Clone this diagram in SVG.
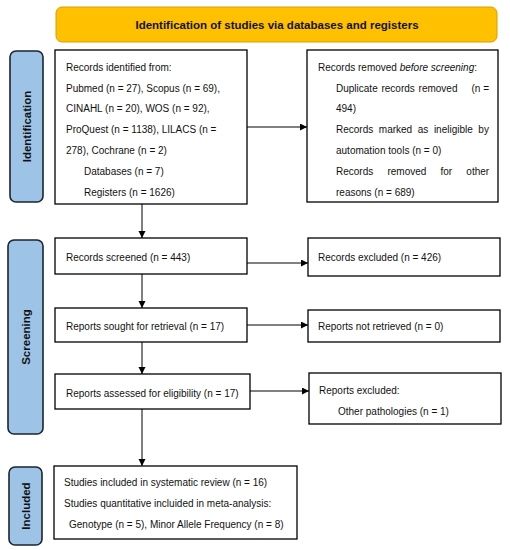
<svg xmlns="http://www.w3.org/2000/svg" width="510" height="550" viewBox="0 0 510 550">
<defs>
<style>
.box{fill:#fff;stroke:#000;stroke-width:1.3}
.side{fill:#9DC3E6;stroke:#1b2530;stroke-width:1.6}
.hdr{fill:#FFC000;stroke:#D4A000;stroke-width:1}
.t{font-family:"Liberation Sans",Arial,sans-serif;font-size:10px;fill:#111}
.st{font-family:"Liberation Sans",Arial,sans-serif;font-size:11.5px;font-weight:bold;fill:#111;text-anchor:middle}
.ht{font-family:"Liberation Sans",Arial,sans-serif;font-size:11.5px;font-weight:bold;fill:#111;text-anchor:middle}
.c{fill:none;stroke:#000;stroke-width:1}
</style>
<marker id="ah" markerWidth="8" markerHeight="8" refX="7" refY="3.5" orient="auto" markerUnits="userSpaceOnUse">
<path d="M0,0 L7,3.5 L0,7 Z" fill="#000"/>
</marker>
</defs>
<rect width="510" height="550" fill="#fff"/>

<g id="header">
<rect class="hdr" x="56" y="7" width="441" height="35" rx="6"/>
<text class="ht" x="277" y="29">Identification of studies via databases and registers</text>
</g>

<g id="side-identification">
<rect class="side" x="10" y="51" width="33" height="151" rx="6"/>
<text class="st" transform="translate(31,126.5) rotate(-90)">Identification</text>
</g>
<g id="side-screening">
<rect class="side" x="8" y="240" width="35" height="194" rx="6"/>
<text class="st" transform="translate(30,337) rotate(-90)">Screening</text>
</g>
<g id="side-included">
<rect class="side" x="9" y="467" width="33" height="78" rx="6"/>
<text class="st" transform="translate(30,506) rotate(-90)">Included</text>
</g>

<g id="records-identified">
<rect class="box" x="55" y="50" width="192" height="154"/>
<text class="t" x="66" y="71">Records identified from:</text>
<text class="t" x="66" y="91.5">Pubmed (n = 27), Scopus (n = 69),</text>
<text class="t" x="66" y="112">CINAHL (n = 20), WOS (n = 92),</text>
<text class="t" x="66" y="133">ProQuest (n = 1138), LILACS (n =</text>
<text class="t" x="66" y="154">278), Cochrane (n = 2)</text>
<text class="t" x="84" y="174.5">Databases (n = 7)</text>
<text class="t" x="84" y="196">Registers (n = 1626)</text>
</g>

<g id="records-removed">
<rect class="box" x="307" y="50" width="191" height="152"/>
<text class="t" x="318" y="71">Records removed <tspan font-style="italic">before screening</tspan>:</text>
<text class="t" x="336" y="91.5" word-spacing="1">Duplicate records removed</text>
<text class="t" x="489" y="91.5" text-anchor="end">(n =</text>
<text class="t" x="336" y="112">494)</text>
<text class="t" x="336" y="133" word-spacing="2.8">Records marked as ineligible by</text>
<text class="t" x="336" y="154">automation tools (n = 0)</text>
<text class="t" x="336" y="175" word-spacing="11.4">Records removed for other</text>
<text class="t" x="336" y="196">reasons (n = 689)</text>
</g>

<g id="records-screened">
<rect class="box" x="55" y="238" width="192" height="36"/>
<text class="t" x="66" y="261">Records screened (n = 443)</text>
</g>
<g id="records-excluded">
<rect class="box" x="308" y="238" width="192" height="38"/>
<text class="t" x="318" y="261">Records excluded (n = 426)</text>
</g>

<g id="reports-sought">
<rect class="box" x="55" y="308" width="192" height="34"/>
<text class="t" x="66" y="329.5">Reports sought for retrieval (n = 17)</text>
</g>
<g id="reports-not-retrieved">
<rect class="box" x="308" y="310" width="192" height="32"/>
<text class="t" x="318" y="329.5">Reports not retrieved (n = 0)</text>
</g>

<g id="reports-assessed">
<rect class="box" x="55" y="374" width="195" height="35"/>
<text class="t" x="66" y="396.5">Reports assessed for eligibility (n = 17)</text>
</g>
<g id="reports-excluded">
<rect class="box" x="309" y="373" width="192" height="51"/>
<text class="t" x="319" y="394">Reports excluded:</text>
<text class="t" x="338" y="415">Other pathologies (n = 1)</text>
</g>

<g id="studies-included">
<rect class="box" x="54" y="466" width="243" height="73"/>
<text class="t" x="64" y="486">Studies included in systematic review (n = 16)</text>
<text class="t" x="64" y="507">Studies quantitative incluided in meta-analysis:</text>
<text class="t" x="69" y="528">Genotype (n = 5), Minor Allele Frequency (n = 8)</text>
</g>

<g id="connectors">
<line class="c" x1="247" y1="127" x2="307" y2="127" marker-end="url(#ah)"/>
<line class="c" x1="142" y1="204" x2="142" y2="238" marker-end="url(#ah)"/>
<line class="c" x1="247" y1="263" x2="308" y2="263" marker-end="url(#ah)"/>
<line class="c" x1="142" y1="274" x2="142" y2="308" marker-end="url(#ah)"/>
<line class="c" x1="247" y1="325" x2="308" y2="325" marker-end="url(#ah)"/>
<line class="c" x1="142" y1="342" x2="142" y2="374" marker-end="url(#ah)"/>
<line class="c" x1="250" y1="391" x2="309" y2="391" marker-end="url(#ah)"/>
<line class="c" x1="142" y1="409" x2="142" y2="466" marker-end="url(#ah)"/>
</g>
</svg>
